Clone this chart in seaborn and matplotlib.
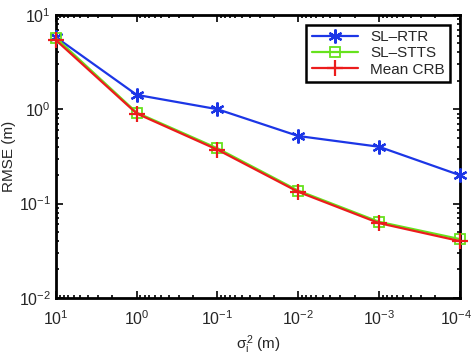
import numpy as np
import pandas as pd
import matplotlib
matplotlib.use('Agg')
import matplotlib.pyplot as plt
import seaborn as sns
from matplotlib.ticker import LogLocator, NullFormatter
from matplotlib.transforms import ScaledTranslation

sns.set_style('ticks')
plt.rcParams['font.family'] = ['Liberation Sans', 'DejaVu Sans']
plt.rcParams['mathtext.fontset'] = 'custom'
plt.rcParams['mathtext.rm'] = 'Liberation Sans'
plt.rcParams['mathtext.it'] = 'Liberation Sans'

# noise variance levels and RMSE values
sigma2 = [1e1, 1e0, 1e-1, 1e-2, 1e-3, 1e-4]
rmse_rtr = [5.8, 1.42, 1.0, 0.52, 0.40, 0.20]
rmse_stts = [5.7, 0.92, 0.385, 0.137, 0.064, 0.042]
rmse_crb = [5.4, 0.90, 0.372, 0.133, 0.062, 0.040]
xtick_labels = [r'$10^{1}$', r'$10^{0}$', r'$10^{-1}$', r'$10^{-2}$', r'$10^{-3}$', r'$10^{-4}$']

blue, green, red = '#1c36e6', '#66e21c', '#ec1c1c'

fig = plt.figure(figsize=(4.74, 3.55), dpi=100)
ax = fig.add_axes([0.118, 0.161, 0.852, 0.797])

sns.lineplot(x=sigma2, y=rmse_rtr, ax=ax, color=blue, lw=1.6, marker=(6, 2, 0),
             markersize=10, markeredgewidth=1.6, markeredgecolor=blue,
             label='SL\u2013RTR', clip_on=False, zorder=3)
sns.lineplot(x=sigma2, y=rmse_stts, ax=ax, color=green, lw=1.6, marker='s',
             markersize=7, markerfacecolor='none', markeredgecolor=green,
             markeredgewidth=1.3, label='SL\u2013STTS', clip_on=False, zorder=3)
sns.lineplot(x=sigma2, y=rmse_crb, ax=ax, color=red, lw=1.6, marker='+',
             markersize=11, markeredgewidth=1.6, markeredgecolor=red,
             label='Mean CRB', clip_on=False, zorder=3)

ax.set_xscale('log')
ax.set_yscale('log')
ax.set_xlim(1e1, 1e-4)
ax.set_ylim(1e-2, 1e1)
ax.set_xticks(sigma2)
ax.set_xticklabels(xtick_labels)
ax.set_yticks([1e-2, 1e-1, 1e0, 1e1])
ax.set_yticklabels([r'$10^{-2}$', r'$10^{-1}$', r'$10^{0}$', r'$10^{1}$'])
ax.xaxis.set_minor_locator(LogLocator(base=10, subs=np.arange(2, 10), numticks=20))
ax.yaxis.set_minor_locator(LogLocator(base=10, subs=np.arange(2, 10), numticks=20))
ax.xaxis.set_minor_formatter(NullFormatter())
ax.yaxis.set_minor_formatter(NullFormatter())
ax.tick_params(which='both', direction='in', top=True, right=True, labelsize=11.5,
               width=1.2, color='black')
ax.tick_params(which='major', length=5)
ax.tick_params(which='minor', length=2.5)
ax.tick_params(axis='x', pad=8)
for s in ax.spines.values():
    s.set_linewidth(2)
    s.set_color('black')
# keep the last x label inside the figure
lab = ax.get_xticklabels()[-1]
lab.set_horizontalalignment('right')
lab.set_transform(lab.get_transform() + ScaledTranslation(13 / 100, 0, fig.dpi_scale_trans))

ax.set_xlabel(r'$\sigma_i^2$ (m)', fontsize=11, labelpad=4)
ax.set_ylabel('RMSE (m)', fontsize=11, labelpad=2)

leg = ax.legend(loc='upper right', fontsize=11, frameon=True, fancybox=False,
                edgecolor='black', handlelength=3.0, borderaxespad=0.65,
                labelspacing=0.15, borderpad=0.35, framealpha=1)
leg.get_frame().set_linewidth(1.8)
leg.set_zorder(5)

fig.savefig('out.png', dpi=100)
